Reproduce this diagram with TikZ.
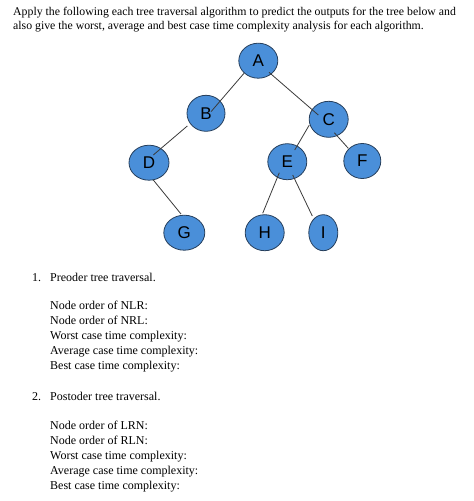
\documentclass[tikz,border=0pt]{standalone}
\usepackage{fontspec}
\setmainfont{Liberation Serif}
\newfontfamily\nodefont{Liberation Sans}
\usepackage{tikz}
\usepackage{xcolor}
\usetikzlibrary{shapes.geometric, positioning, calc}
\definecolor{NodeBlue}{HTML}{4A8FD9}
\definecolor{EdgeGray}{HTML}{3A3A3A}
\definecolor{RimBlue}{HTML}{263F5C}

\begin{document}
\begin{tikzpicture}[x=1pt, y=1pt,
    treenode/.style={ellipse, draw=RimBlue, line width=0.8pt, fill=NodeBlue,
          inner sep=0pt, minimum width=39pt, minimum height=35pt,
          font=\nodefont\fontsize{17}{18}\selectfont},
    edge/.style={draw=EdgeGray, line width=0.8pt},
    para/.style={anchor=north west, inner sep=0pt, align=left,
          font=\fontsize{11.8}{14}\selectfont},
    listtext/.style={anchor=north west, inner sep=0pt, align=left,
          font=\fontsize{12}{15}\selectfont}]
    \useasboundingbox (0,0) rectangle (474,-501);

    % Question text
    \node[para] (intro) at (13,-7) {Apply the following each tree traversal algorithm to predict the outputs for the tree below and\\
        also give the worst, average and best case time complexity analysis for each algorithm.};

    % Tree nodes
    \node[treenode] (A) at (258.3,-60.7) {A};
    \node[treenode, minimum width=38pt, minimum height=36pt] (B) at (206,-113.3) {B};
    \node[treenode, minimum height=36pt] (C) at (328.7,-119.3) {C};
    \node[treenode, minimum width=40pt] (D) at (149,-162.7) {D};
    \node[treenode, minimum height=36pt] (E) at (287.3,-161.7) {E};
    \node[treenode, minimum width=37pt] (F) at (362.3,-161) {F};
    \node[treenode, minimum width=41pt] (G) at (184.3,-232.7) {G};
    \node[treenode, minimum height=36pt] (H) at (264.7,-232.7) {H};
    \node[treenode, minimum width=29pt, minimum height=36pt] (I) at (323.3,-232.7) {I};

    % Edges
    \path[edge] ($(A)+(-14.3,-12.6)$) -- ($(B)+(5,1.6)$);
    \path[edge] ($(A)+(10.7,-11.6)$) -- ($(C)+(-10.4,4.3)$);
    \path[edge] ($(B)+(-18.7,-12.7)$) -- ($(D)+(4.3,7.7)$);
    \path[edge] ($(D)+(4.3,-17.3)$) -- ($(G)+(-3.3,18.7)$);
    \path[edge] ($(C)+(-19.4,-5.7)$) -- ($(E)+(7.4,11.7)$);
    \path[edge] ($(C)+(5.6,-13.4)$) -- ($(F)+(-14,12.7)$);
    \path[edge] ($(E)+(-8,-11)$) -- ($(H)+(-2,19.4)$);
    \path[edge] ($(E)+(5.4,-13.3)$) -- ($(I)+(-11,16.7)$);

    % Question list
    \node[listtext] (num1) at (32,-273) {1.};
    \node[listtext] (pre) at (50,-273) {Preoder tree traversal.};
    \node[listtext] (prelist) at (50,-301) {Node order of NLR:\\
        Node order of NRL:\\
        Worst case time complexity:\\
        Average case time complexity:\\
        Best case time complexity:};
    \node[listtext] (num2) at (32,-392) {2.};
    \node[listtext] (post) at (50,-392) {Postoder tree traversal.};
    \node[listtext] (postlist) at (50,-420.5) {Node order of LRN:\\
        Node order of RLN:\\
        Worst case time complexity:\\
        Average case time complexity:\\
        Best case time complexity:};
\end{tikzpicture}
\end{document}
